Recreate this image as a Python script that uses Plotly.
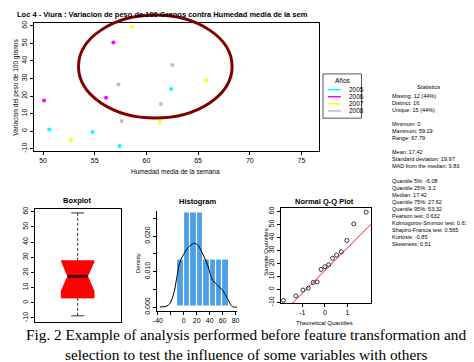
import plotly.graph_objects as go

W, H = 474, 362
FONT = "Liberation Sans, Arial, sans-serif"
SERIF = "Liberation Serif, Times New Roman, serif"

# ---------------- data ----------------
YEARS = ["2005", "2006", "2007", "2008"]
YEAR_COLORS = ["#00ffff", "#ff00ff", "#ffff00", "#bebebe"]
hum_2005 = [50.6, 54.8, 57.4, 62.4]
var_2005 = [1.0, -0.5, -8.5, 24.0]
hum_2006 = [50.1, 56.1, 56.8]
var_2006 = [17.5, 19.0, 50.5]
hum_2007 = [52.7, 58.6, 61.3, 65.8]
var_2007 = [-5.0, 59.5, 5.3, 29.0]
hum_2008 = [57.3, 57.6, 61.4, 62.5]
var_2008 = [26.5, 5.7, 15.4, 37.7]
HUM = [hum_2005, hum_2006, hum_2007, hum_2008]
VAR = [var_2005, var_2006, var_2007, var_2008]

ELLIPSE_CENTER = (60.86, 36.8)
ELLIPSE_RADII = (7.43, 29.3)

SCATTER_XTICKS = [50, 55, 60, 65, 70, 75]
SCATTER_YTICKS = [-10, 0, 10, 20, 30, 40, 50, 60]
SCATTER_YTEXT = ["-10", "0", "10", "20", "30", "40", "50", "60"]

BOX_LOWER = -8.6
BOX_Q1 = 3.2
BOX_MEDIAN = 17.42
BOX_Q3 = 27.62
BOX_UPPER = 59.19
NOTCH_LO = 7.8
NOTCH_HI = 27.0

HIST_CENTERS = [-5, 5, 15, 25, 35, 45, 55, 65]
HIST_DENSITY = [0.0133, 0.0267, 0.0267, 0.0267, 0.0133, 0.0133, 0.0133, 0.0133]
DENS_X = [-37, -24, -16.3, -11.1, -6.1, 1.5, 9.2, 16.8, 21.8, 29.5, 37.1, 44.7, 52.4, 60.0, 67.6, 75.3, 83.0]
DENS_Y = [0.0, 0.0005, 0.0033, 0.008, 0.0126, 0.0154, 0.0172, 0.018, 0.0174, 0.0149, 0.0117, 0.0075, 0.0061, 0.0047, 0.0024, 0.0001, 0.0]
HIST_XTICKS = [-40, -20, 0, 20, 40, 60, 80]
HIST_XTEXT = ["-40", "", "0", "20", "40", "60", "80"]
HIST_YTICKS = [0.0, 0.005, 0.010, 0.015, 0.020, 0.025]
HIST_YTEXT = ["0.000", "", "0.010", "", "0.020", ""]

QQ_THEORETICAL = [-1.83, -1.28, -0.97, -0.73, -0.52, -0.34, -0.17, 0.0,
                  0.17, 0.34, 0.52, 0.73, 0.97, 1.28, 1.83]
QQ_SAMPLE = sorted(v for vs in VAR for v in vs)
QQ_INTERCEPT = 14.5
QQ_SLOPE = 17.5
QQ_XTICKS = [-1, 0, 1]
QQ_XTEXT = ["-1", "0", "1"]

STATS_TITLE = "Statistics"
STATS_LINES = [
    "Missing: 12 (44%)", "Distinct: 16", "Unique: 15 (44%)", "",
    "Minimum: 0", "Maximum: 59.19", "Range: 67.79", "",
    "Mean: 17.42", "Standard deviation: 19.97", "MAD from the median: 9.83", "",
    "Quantile 5%: -6.08", "Quantile 25%: 3.2", "Median: 17.42", "Quantile 75%: 27.62",
    "Quantile 95%: 53.32", "Pearson test: 0.632", "Kolmogorov-Smirnov test: 0.61",
    "Shapiro-Francia test: 0.565", "Kurtosis: -0.85", "Skewness: 0.51",
]

TITLE = "Loc 4 - Viura : Variacion de peso de 100 Granos contra Humedad media de la sem"
CAPTION_1 = "Fig. 2 Example of analysis performed before feature transformation and"
CAPTION_2 = "selection to test the influence of some variables with others"


# ---------------- helpers ----------------
def xd(a, b):
    return [a / W, b / W]


def yd(top, bottom):
    return [1 - bottom / H, 1 - top / H]


def px(x):
    return x / W


def py(y):
    return 1 - y / H


def ax(**kw):
    base = dict(showgrid=False, zeroline=False, showline=True, linecolor="black",
                linewidth=1, ticks="outside", ticklen=3, tickwidth=1, tickcolor="black",
                tickfont=dict(family=FONT, size=7, color="black"), fixedrange=True)
    base.update(kw)
    return base


fig = go.Figure()

# overlay subplot for ellipse (allows drawing above the plot frame)
fig.add_trace(go.Scatter(x=[], y=[], xaxis="x2", yaxis="y2", showlegend=False))
fig.add_shape(type="circle", xref="x2", yref="y2", layer="below",
              x0=ELLIPSE_CENTER[0] - ELLIPSE_RADII[0], x1=ELLIPSE_CENTER[0] + ELLIPSE_RADII[0],
              y0=ELLIPSE_CENTER[1] - ELLIPSE_RADII[1], y1=ELLIPSE_CENTER[1] + ELLIPSE_RADII[1],
              line=dict(color="#800000", width=3))

# ---------- scatter ----------
for yr, col, xs, ys in zip(YEARS, YEAR_COLORS, HUM, VAR):
    fig.add_trace(go.Scatter(x=xs, y=ys, mode="markers", name=yr,
                             marker=dict(color=col, size=4), xaxis="x", yaxis="y",
                             showlegend=False))

# ---------- boxplot ----------
bw, nw, cw = 0.19, 0.115, 0.075
bx = [1 - bw, 1 - bw, 1 - nw, 1 - bw, 1 - bw, 1 + bw, 1 + bw, 1 + nw, 1 + bw, 1 + bw, 1 - bw]
by = [BOX_Q1, NOTCH_LO, BOX_MEDIAN, NOTCH_HI, BOX_Q3, BOX_Q3, NOTCH_HI, BOX_MEDIAN, NOTCH_LO, BOX_Q1, BOX_Q1]
fig.add_trace(go.Scatter(x=[1, 1, None, 1, 1], y=[BOX_Q3, BOX_UPPER, None, BOX_Q1, BOX_LOWER],
                         mode="lines", line=dict(color="#333333", width=1, dash="3px,2px"),
                         xaxis="x3", yaxis="y3", showlegend=False))
fig.add_trace(go.Scatter(x=[1 - cw, 1 + cw, None, 1 - cw, 1 + cw],
                         y=[BOX_UPPER, BOX_UPPER, None, BOX_LOWER, BOX_LOWER],
                         mode="lines", line=dict(color="#333333", width=1),
                         xaxis="x3", yaxis="y3", showlegend=False))
fig.add_trace(go.Scatter(x=bx, y=by, mode="lines", fill="toself", fillcolor="#ff0000",
                         line=dict(color="#ff0000", width=1),
                         xaxis="x3", yaxis="y3", showlegend=False))
fig.add_trace(go.Scatter(x=[1 - nw, 1 + nw], y=[BOX_MEDIAN, BOX_MEDIAN], mode="lines",
                         line=dict(color="#220000", width=2.5),
                         xaxis="x3", yaxis="y3", showlegend=False))

# ---------- histogram ----------
fig.add_trace(go.Bar(x=HIST_CENTERS, y=HIST_DENSITY, width=10,
                     marker=dict(color="#4a9fe6", line=dict(color="white", width=1.2)),
                     xaxis="x4", yaxis="y4", showlegend=False))
fig.add_trace(go.Scatter(x=DENS_X, y=DENS_Y, mode="lines",
                         line=dict(color="black", width=1, shape="spline"),
                         xaxis="x4", yaxis="y4", showlegend=False))

# ---------- QQ ----------
QQ_XR = [-1.96, 2.06]
fig.add_trace(go.Scatter(x=QQ_XR, y=[QQ_INTERCEPT + QQ_SLOPE * v for v in QQ_XR], mode="lines",
                         line=dict(color="#e8202a", width=1),
                         xaxis="x5", yaxis="y5", showlegend=False))
fig.add_trace(go.Scatter(x=QQ_THEORETICAL, y=QQ_SAMPLE, mode="markers",
                         marker=dict(symbol="circle-open", size=4, color="#333333",
                                     line=dict(width=1)),
                         xaxis="x5", yaxis="y5", showlegend=False))

# ---------- annotations ----------
ann = []


def text(x, y, t, size=7, bold=False, angle=0, xanchor="center", family=FONT):
    ann.append(dict(x=px(x), y=py(y), xref="paper", yref="paper", text=("<b>%s</b>" % t) if bold else t,
                    showarrow=False, textangle=angle, xanchor=xanchor, yanchor="middle",
                    font=dict(family=family, size=size, color="black")))


text(3, 5, TITLE, size=7.5, bold=True, xanchor="left")
text(166, 164, "Humedad media de la semana", size=6.5)
text(4, 78, "Variacion del peso de 100 granos", size=6.5, angle=-90)

# legend (manual)
shapes = [dict(type="rect", xref="paper", yref="paper", x0=px(315), x1=px(354), y0=py(65), y1=py(110),
               line=dict(color="#555555", width=1))]
text(335, 71.5, "Años", size=6.5)
for i, (yr, col) in enumerate(zip(YEARS, YEAR_COLORS)):
    yy = 81 + i * 7.2
    shapes.append(dict(type="line", xref="paper", yref="paper", x0=px(320), x1=px(333),
                       y0=py(yy), y1=py(yy), line=dict(color=col, width=1.5)))
    text(339, yy, yr, size=6.5, xanchor="left")

# statistics
text(422, 78, STATS_TITLE, size=5.8)
for i, line in enumerate(STATS_LINES):
    if line:
        text(383, 87 + i * 7.2, line, size=5.5, xanchor="left")

text(66, 194, "Boxplot", size=7.5, bold=True)
text(188, 195, "Histogram", size=7.5, bold=True)
text(317, 195, "Normal Q-Q Plot", size=7.5, bold=True)
text(127, 257, "Density", size=6, angle=-90)
text(257, 246, "Sample Quantiles", size=6, angle=-90)
text(317, 318, "Theoretical Quantiles", size=6)

text(237, 330, CAPTION_1, size=15.3, family=SERIF)
text(237, 350, CAPTION_2, size=15.3, family=SERIF)

fig.update_layout(
    width=W, height=H, margin=dict(l=0, r=0, t=0, b=0),
    paper_bgcolor="white", plot_bgcolor="rgba(0,0,0,0)",
    showlegend=False, annotations=ann, shapes=fig.layout.shapes + tuple(shapes),
    xaxis=ax(domain=xd(22, 311), range=[49.1, 76.7], anchor="y", mirror=True,
             tickvals=SCATTER_XTICKS),
    yaxis=ax(domain=yd(13, 143), range=[-11.1, 61.7], anchor="x", mirror=True,
             tickvals=SCATTER_YTICKS, ticktext=SCATTER_YTEXT, tickangle=-90),
    xaxis2=dict(domain=xd(22, 311), range=[49.1, 76.7], anchor="y2", visible=False, fixedrange=True),
    yaxis2=dict(domain=yd(2, 143), range=[-11.1, 67.86], anchor="x2", visible=False, fixedrange=True),
    xaxis3=ax(domain=xd(23, 110), range=[0.5, 1.5], anchor="y3", mirror=True, ticks="",
              showticklabels=False),
    yaxis3=ax(domain=yd(202, 317), range=[-12.5, 62], anchor="x3", mirror=True,
              tickvals=SCATTER_YTICKS, ticktext=SCATTER_YTEXT, tickangle=-90),
    xaxis4=ax(domain=xd(147, 228), range=[-41.2, 82.4], anchor="y4",
              tickvals=HIST_XTICKS, ticktext=HIST_XTEXT),
    yaxis4=ax(domain=yd(204, 306), range=[-0.0011, 0.0272], anchor="x4",
              tickvals=HIST_YTICKS, ticktext=HIST_YTEXT, tickangle=-90),
    xaxis5=ax(domain=xd(272, 364), range=QQ_XR, anchor="y5", mirror=True,
              tickvals=QQ_XTICKS, ticktext=QQ_XTEXT),
    yaxis5=ax(domain=yd(201, 298), range=[-10.53, 63.03], anchor="x5", mirror=True,
              tickvals=SCATTER_YTICKS, ticktext=SCATTER_YTEXT, tickangle=-90),
    bargap=0,
)

fig.write_html("out.html")
